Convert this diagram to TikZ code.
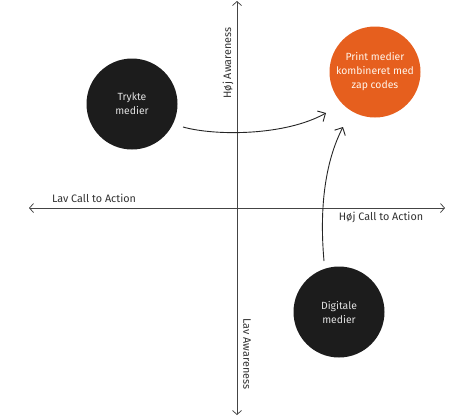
\documentclass[tikz,border=0pt]{standalone}
\usepackage{fontspec}
\setmainfont{Fira Sans}
\usetikzlibrary{arrows.meta}
\definecolor{orng}{HTML}{E65F1E}
\definecolor{blk}{HTML}{1C1C1C}
\definecolor{axis}{HTML}{444444}
\begin{document}
\begin{tikzpicture}[x=1pt,y=-1pt,
  bubble/.style={circle,minimum size=91pt,inner sep=0pt,align=center,font=\fontsize{10.4}{14}\selectfont,text=white!88!black},
  axline/.style={draw=axis,line width=0.75pt,{Straight Barb[length=4pt,width=9pt]}-{Straight Barb[length=4pt,width=9pt]}},
  flow/.style={draw=black!85,line width=0.9pt,-{Straight Barb[length=6pt,width=12pt]}},
  lab/.style={font=\fontsize{10.8}{12}\selectfont,text=black!80,inner sep=0pt}]
\useasboundingbox[fill=white] (0,0) rectangle (474,416);
% axes
\coordinate (top) at (237,1);
\coordinate (bot) at (237,415);
\coordinate (lft) at (29,208);
\coordinate (rgt) at (445,208);
\draw[axline] (bot) -- (top);
\draw[axline] (lft) -- (rgt);
% labels
\node[lab,rotate=90] (hojA) at (228,63) {Høj Awareness};
\node[lab,rotate=-90] (lavA) at (247,354) {Lav Awareness};
\node[lab] (lavC) at (94,198) {Lav Call to Action};
\node[lab] (hojC) at (381,217) {Høj Call to Action};
% bubbles
\node[bubble,fill=blk] (tryk) at (132,104) {Trykte\\medier};
\node[bubble,fill=orng,text=white!92!orange] (print) at (375,72) {Print medier\\kombineret med\\zap codes};
\node[bubble,fill=blk] (digi) at (339,312) {Digitale\\medier};
% arrows
\coordinate (a1s) at (183,127);
\coordinate (a1e) at (326,113);
\coordinate (a2s) at (324,261);
\coordinate (a2e) at (343,127);
\draw[flow] (a1s) .. controls (215,136) and (285,136) .. (a1e);
\draw[flow] (a2s) .. controls (319,205) and (326,160) .. (a2e);
\end{tikzpicture}
\end{document}
